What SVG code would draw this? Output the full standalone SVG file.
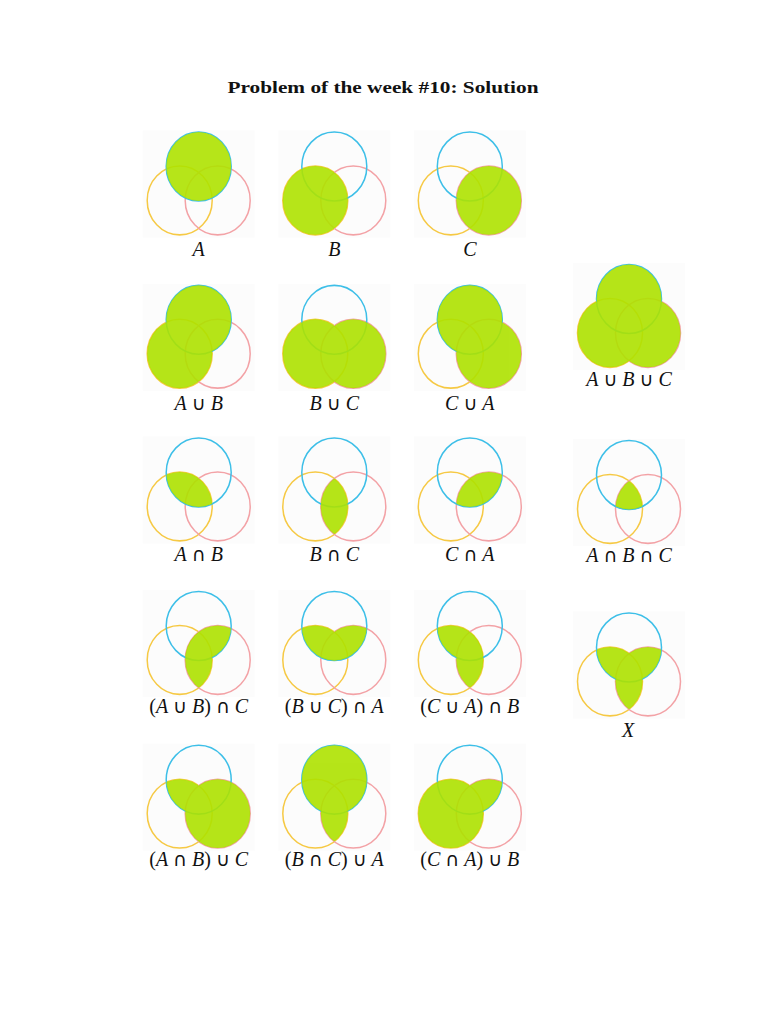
<svg xmlns="http://www.w3.org/2000/svg" width="768" height="1024" viewBox="0 0 768 1024">
<style>
.bg{fill:#fcfcfc}
.sa{fill:none;stroke:#3dbfe8;stroke-width:1.5}
.sb{fill:none;stroke:#f6c944;stroke-width:1.5}
.sc{fill:none;stroke:#f3a2a6;stroke-width:1.5}
.fl{opacity:0.9}
.fl use{fill:#aee200}
.lb{font-family:"Liberation Serif","DejaVu Serif",serif;font-size:20px;fill:#111;text-anchor:middle}
.i{font-style:italic}
.o{font-family:"DejaVu Sans",sans-serif;font-size:19px}
.t{font-family:"Liberation Serif","DejaVu Serif",serif;font-size:17px;font-weight:bold;fill:#111;text-anchor:middle}
</style>
<defs>
<circle id="cA" cx="0" cy="0" r="32.5"/>
<circle id="cB" cx="-19" cy="32" r="32.5"/>
<circle id="cC" cx="19" cy="32" r="32.5"/>
<clipPath id="kA"><use href="#cA"/></clipPath>
<clipPath id="kB"><use href="#cB"/></clipPath>
<clipPath id="kC"><use href="#cC"/></clipPath>
<g id="st"><use href="#cB" class="sb"/><use href="#cC" class="sc"/><use href="#cA" class="sa"/></g>
</defs>

<text class="t" x="383" y="93" textLength="311" lengthAdjust="spacingAndGlyphs">Problem of the week #10: Solution</text>

<!-- Row 1 -->
<g id="n-A">
<g transform="translate(198.7,166.5) scale(1,1.06)">
<rect class="bg" x="-56" y="-34" width="112" height="101"/>
<use href="#st"/>
<g class="fl"><use href="#cA"/></g>
</g>
<text class="lb" x="198.7" y="256"><tspan class="i">A</tspan></text>
</g>
<g id="n-B">
<g transform="translate(334.3,166.5) scale(1,1.06)">
<rect class="bg" x="-56" y="-34" width="112" height="101"/>
<use href="#st"/>
<g class="fl"><use href="#cB"/></g>
</g>
<text class="lb" x="334.3" y="256"><tspan class="i">B</tspan></text>
</g>
<g id="n-C">
<g transform="translate(469.8,166.5) scale(1,1.06)">
<rect class="bg" x="-56" y="-34" width="112" height="101"/>
<use href="#st"/>
<g class="fl"><use href="#cC"/></g>
</g>
<text class="lb" x="469.8" y="256"><tspan class="i">C</tspan></text>
</g>

<!-- Row 2 -->
<g id="n-AuB">
<g transform="translate(198.7,319.8) scale(1,1.06)">
<rect class="bg" x="-56" y="-34" width="112" height="101"/>
<use href="#st"/>
<g class="fl"><use href="#cA"/><use href="#cB"/></g>
</g>
<text class="lb" x="198.7" y="409.5"><tspan class="i">A</tspan> <tspan class="o">∪</tspan> <tspan class="i">B</tspan></text>
</g>
<g id="n-BuC">
<g transform="translate(334.3,319.8) scale(1,1.06)">
<rect class="bg" x="-56" y="-34" width="112" height="101"/>
<use href="#st"/>
<g class="fl"><use href="#cB"/><use href="#cC"/></g>
</g>
<text class="lb" x="334.3" y="409.5"><tspan class="i">B</tspan> <tspan class="o">∪</tspan> <tspan class="i">C</tspan></text>
</g>
<g id="n-CuA">
<g transform="translate(469.8,319.8) scale(1,1.06)">
<rect class="bg" x="-56" y="-34" width="112" height="101"/>
<use href="#st"/>
<g class="fl"><use href="#cC"/><use href="#cA"/></g>
</g>
<text class="lb" x="469.8" y="409.5"><tspan class="i">C</tspan> <tspan class="o">∪</tspan> <tspan class="i">A</tspan></text>
</g>
<g id="n-AuBuC">
<g transform="translate(629,299) scale(1,1.06)">
<rect class="bg" x="-56" y="-34" width="112" height="101"/>
<use href="#st"/>
<g class="fl"><use href="#cA"/><use href="#cB"/><use href="#cC"/></g>
</g>
<text class="lb" x="629" y="386"><tspan class="i">A</tspan> <tspan class="o">∪</tspan> <tspan class="i">B</tspan> <tspan class="o">∪</tspan> <tspan class="i">C</tspan></text>
</g>

<!-- Row 3 -->
<g id="n-AnB">
<g transform="translate(198.7,472.5) scale(1,1.06)">
<rect class="bg" x="-56" y="-34" width="112" height="101"/>
<use href="#st"/>
<g class="fl"><use href="#cA" clip-path="url(#kB)"/></g>
</g>
<text class="lb" x="198.7" y="561"><tspan class="i">A</tspan> <tspan class="o">∩</tspan> <tspan class="i">B</tspan></text>
</g>
<g id="n-BnC">
<g transform="translate(334.3,472.5) scale(1,1.06)">
<rect class="bg" x="-56" y="-34" width="112" height="101"/>
<use href="#st"/>
<g class="fl"><use href="#cB" clip-path="url(#kC)"/></g>
</g>
<text class="lb" x="334.3" y="561"><tspan class="i">B</tspan> <tspan class="o">∩</tspan> <tspan class="i">C</tspan></text>
</g>
<g id="n-CnA">
<g transform="translate(469.8,472.5) scale(1,1.06)">
<rect class="bg" x="-56" y="-34" width="112" height="101"/>
<use href="#st"/>
<g class="fl"><use href="#cC" clip-path="url(#kA)"/></g>
</g>
<text class="lb" x="469.8" y="561"><tspan class="i">C</tspan> <tspan class="o">∩</tspan> <tspan class="i">A</tspan></text>
</g>
<g id="n-AnBnC">
<g transform="translate(629,475) scale(1,1.06)">
<rect class="bg" x="-56" y="-34" width="112" height="101"/>
<use href="#st"/>
<g class="fl"><g clip-path="url(#kC)"><use href="#cA" clip-path="url(#kB)"/></g></g>
</g>
<text class="lb" x="629" y="562"><tspan class="i">A</tspan> <tspan class="o">∩</tspan> <tspan class="i">B</tspan> <tspan class="o">∩</tspan> <tspan class="i">C</tspan></text>
</g>

<!-- Row 4 -->
<g id="n-AuBnC">
<g transform="translate(198.7,626) scale(1,1.06)">
<rect class="bg" x="-56" y="-34" width="112" height="101"/>
<use href="#st"/>
<g class="fl"><g clip-path="url(#kC)"><use href="#cA"/><use href="#cB"/></g></g>
</g>
<text class="lb" x="198.7" y="713">(<tspan class="i">A</tspan> <tspan class="o">∪</tspan> <tspan class="i">B</tspan>) <tspan class="o">∩</tspan> <tspan class="i">C</tspan></text>
</g>
<g id="n-BuCnA">
<g transform="translate(334.3,626) scale(1,1.06)">
<rect class="bg" x="-56" y="-34" width="112" height="101"/>
<use href="#st"/>
<g class="fl"><g clip-path="url(#kA)"><use href="#cB"/><use href="#cC"/></g></g>
</g>
<text class="lb" x="334.3" y="713">(<tspan class="i">B</tspan> <tspan class="o">∪</tspan> <tspan class="i">C</tspan>) <tspan class="o">∩</tspan> <tspan class="i">A</tspan></text>
</g>
<g id="n-CuAnB">
<g transform="translate(469.8,626) scale(1,1.06)">
<rect class="bg" x="-56" y="-34" width="112" height="101"/>
<use href="#st"/>
<g class="fl"><g clip-path="url(#kB)"><use href="#cC"/><use href="#cA"/></g></g>
</g>
<text class="lb" x="469.8" y="713">(<tspan class="i">C</tspan> <tspan class="o">∪</tspan> <tspan class="i">A</tspan>) <tspan class="o">∩</tspan> <tspan class="i">B</tspan></text>
</g>
<g id="n-X">
<g transform="translate(629,647.5) scale(1,1.06)">
<rect class="bg" x="-56" y="-34" width="112" height="101"/>
<use href="#st"/>
<g class="fl"><use href="#cA" clip-path="url(#kB)"/><use href="#cB" clip-path="url(#kC)"/><use href="#cC" clip-path="url(#kA)"/></g>
</g>
<text class="lb" x="628" y="737"><tspan class="i">X</tspan></text>
</g>

<!-- Row 5 -->
<g id="n-AnBuC">
<g transform="translate(198.7,779.7) scale(1,1.06)">
<rect class="bg" x="-56" y="-34" width="112" height="101"/>
<use href="#st"/>
<g class="fl"><use href="#cC"/><use href="#cA" clip-path="url(#kB)"/></g>
</g>
<text class="lb" x="198.7" y="866">(<tspan class="i">A</tspan> <tspan class="o">∩</tspan> <tspan class="i">B</tspan>) <tspan class="o">∪</tspan> <tspan class="i">C</tspan></text>
</g>
<g id="n-BnCuA">
<g transform="translate(334.3,779.7) scale(1,1.06)">
<rect class="bg" x="-56" y="-34" width="112" height="101"/>
<use href="#st"/>
<g class="fl"><use href="#cA"/><use href="#cB" clip-path="url(#kC)"/></g>
</g>
<text class="lb" x="334.3" y="866">(<tspan class="i">B</tspan> <tspan class="o">∩</tspan> <tspan class="i">C</tspan>) <tspan class="o">∪</tspan> <tspan class="i">A</tspan></text>
</g>
<g id="n-CnAuB">
<g transform="translate(469.8,779.7) scale(1,1.06)">
<rect class="bg" x="-56" y="-34" width="112" height="101"/>
<use href="#st"/>
<g class="fl"><use href="#cB"/><use href="#cC" clip-path="url(#kA)"/></g>
</g>
<text class="lb" x="469.8" y="866">(<tspan class="i">C</tspan> <tspan class="o">∩</tspan> <tspan class="i">A</tspan>) <tspan class="o">∪</tspan> <tspan class="i">B</tspan></text>
</g>
</svg>
